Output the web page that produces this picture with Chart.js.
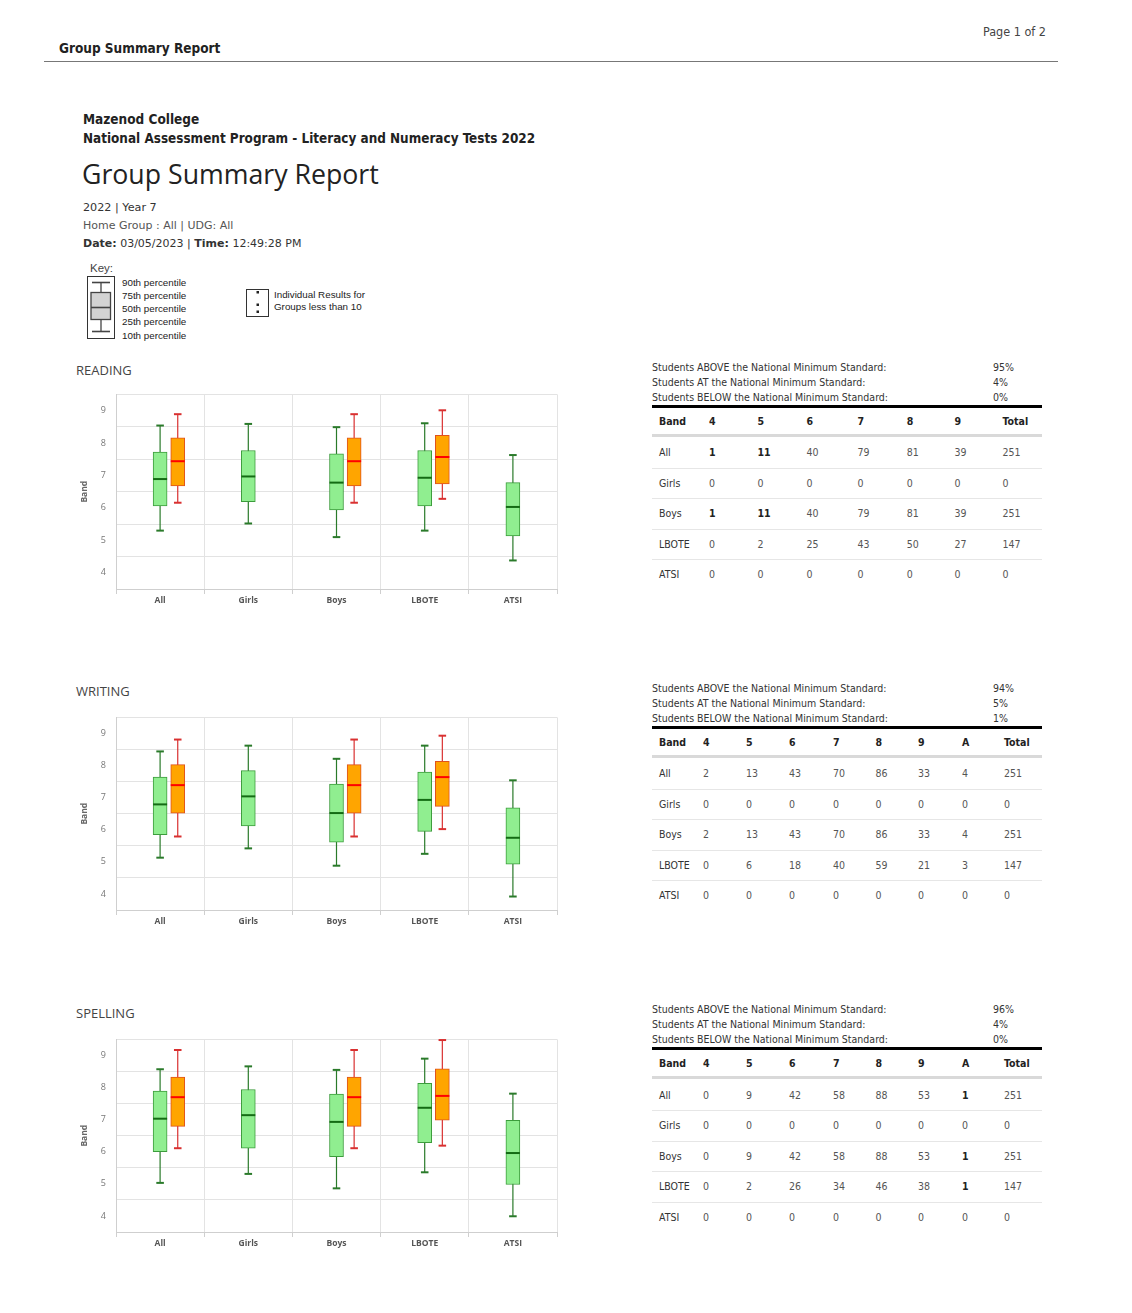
<!DOCTYPE html>
<html>
<head>
<meta charset="utf-8">
<script src="https://cdn.jsdelivr.net/npm/chart.js@4.4.1/dist/chart.umd.min.js"></script>
<style>
html,body{margin:0;padding:0;background:#fff;}
#page{position:relative;width:1132px;height:1313px;overflow:hidden;font-family:"DejaVu Sans",sans-serif;color:#222;}
.t{position:absolute;white-space:nowrap;line-height:16px;height:16px;}
.cond{font-family:"DejaVu Sans Condensed","DejaVu Sans",sans-serif;font-stretch:condensed;}
.rule{position:absolute;}
canvas.chart{position:absolute;}
</style>
</head>
<body>
<div id="page">
  <div class="t cond" style="left:983px;top:24px;font-size:12.5px;color:#444;">Page 1 of 2</div>
  <div class="t cond" style="left:59px;top:40px;font-size:13.5px;font-weight:bold;color:#222;">Group Summary Report</div>
  <div class="rule" style="left:44px;top:61px;width:1014px;height:1px;background:#777;"></div>

  <div class="t cond" style="left:83px;top:111px;font-size:13.5px;font-weight:bold;color:#222;">Mazenod College</div>
  <div class="t cond" style="left:83px;top:131px;font-size:13.4px;font-weight:bold;color:#222;">National Assessment Program - Literacy and Numeracy Tests 2022</div>
  <div class="t" style="left:82px;top:156px;height:36px;line-height:36px;font-family:'Open Sans',sans-serif;font-size:26.7px;color:#222;">Group Summary Report</div>
  <div class="t" style="left:83px;top:200px;font-size:11.2px;color:#333;">2022 | Year 7</div>
  <div class="t" style="left:83px;top:218px;font-size:11px;color:#555;">Home Group : All | UDG: All</div>
  <div class="t" style="left:83px;top:236px;font-size:11px;color:#333;"><b>Date:</b> 03/05/2023 | <b>Time:</b> 12:49:28 PM</div>

  <div class="t" style="left:90px;top:260px;font-family:'Liberation Sans',Arial,sans-serif;font-size:11.5px;color:#444;">Key:</div>
  <svg style="position:absolute;left:0;top:0;" width="400" height="350">
    <g stroke="#444" fill="none">
      <rect x="87.5" y="276.5" width="27" height="62" stroke="#333" stroke-width="1"/>
      <line x1="92" y1="282.5" x2="110" y2="282.5" stroke-width="1.6"/>
      <line x1="101" y1="282.5" x2="101" y2="292.5" stroke-width="1.3"/>
      <rect x="91" y="292.5" width="19.5" height="27" fill="#d3d3d3" stroke-width="1.3"/>
      <line x1="91" y1="307.5" x2="110.5" y2="307.5" stroke-width="1.6"/>
      <line x1="101" y1="319.5" x2="101" y2="331.5" stroke-width="1.3"/>
      <line x1="92" y1="331.5" x2="110" y2="331.5" stroke-width="1.6"/>
      <rect x="246.5" y="289.5" width="22" height="27" stroke="#333" stroke-width="1"/>
    </g>
    <g fill="#222">
      <rect x="256.5" y="291" width="2.5" height="2.5"/>
      <rect x="256.5" y="303.5" width="2.5" height="2.5"/>
      <rect x="256.5" y="310.5" width="2.5" height="2.5"/>
    </g>
  </svg>
</div>
<script>
// ---------- DATA ----------
const CATEGORIES = ['All', 'Girls', 'Boys', 'LBOTE', 'ATSI'];
const BAND_TICKS = [4, 5, 6, 7, 8, 9];
const KEY_LABELS = ['90th percentile', '75th percentile', '50th percentile', '25th percentile', '10th percentile'];

// percentiles per category: [10th, 25th, 50th, 75th, 90th]; green = state, orange = school
const readingState  = [[5.30, 6.06, 6.89, 7.72, 8.54], [5.52, 6.19, 6.97, 7.77, 8.59], [5.10, 5.94, 6.78, 7.67, 8.49], [5.30, 6.06, 6.93, 7.77, 8.61], [4.38, 5.14, 6.03, 6.78, 7.63]];
const readingSchool = [[6.16, 6.68, 7.44, 8.16, 8.89], null, [6.16, 6.68, 7.44, 8.16, 8.89], [6.28, 6.74, 7.57, 8.24, 9.01], null];
const writingState  = [[5.13, 5.85, 6.79, 7.64, 8.44], [5.42, 6.12, 7.04, 7.84, 8.62], [4.88, 5.61, 6.52, 7.42, 8.21], [5.25, 5.95, 6.93, 7.80, 8.62], [3.92, 4.93, 5.75, 6.68, 7.54]];
const writingSchool = [[5.79, 6.52, 7.39, 8.03, 8.81], null, [5.79, 6.52, 7.39, 8.03, 8.81], [6.02, 6.73, 7.64, 8.13, 8.93], null];
const spellingState  = [[5.03, 6.00, 7.03, 7.89, 8.57], [5.31, 6.11, 7.14, 7.94, 8.66], [4.86, 5.85, 6.93, 7.80, 8.55], [5.36, 6.28, 7.37, 8.13, 8.90], [3.99, 4.98, 5.96, 6.98, 7.81]];
const spellingSchool = [[6.11, 6.79, 7.70, 8.33, 9.17], null, [6.11, 6.79, 7.70, 8.33, 9.17], [6.19, 6.98, 7.74, 8.58, 9.48], null];

const STANDARD_LABELS = ['Students ABOVE the National Minimum Standard:', 'Students AT the National Minimum Standard:', 'Students BELOW the National Minimum Standard:'];
const readingStandard  = ['95%', '4%', '0%'];
const writingStandard  = ['94%', '5%', '1%'];
const spellingStandard = ['96%', '4%', '0%'];

const readingBands  = ['4', '5', '6', '7', '8', '9'];
const writingBands  = ['4', '5', '6', '7', '8', '9', 'A'];
const spellingBands = ['4', '5', '6', '7', '8', '9', 'A'];

const readingCounts  = [[1, 11, 40, 79, 81, 39, 251], [0, 0, 0, 0, 0, 0, 0], [1, 11, 40, 79, 81, 39, 251], [0, 2, 25, 43, 50, 27, 147], [0, 0, 0, 0, 0, 0, 0]];
const writingCounts  = [[2, 13, 43, 70, 86, 33, 4, 251], [0, 0, 0, 0, 0, 0, 0, 0], [2, 13, 43, 70, 86, 33, 4, 251], [0, 6, 18, 40, 59, 21, 3, 147], [0, 0, 0, 0, 0, 0, 0, 0]];
const spellingCounts = [[0, 9, 42, 58, 88, 53, 1, 251], [0, 0, 0, 0, 0, 0, 0, 0], [0, 9, 42, 58, 88, 53, 1, 251], [0, 2, 26, 34, 46, 38, 1, 147], [0, 0, 0, 0, 0, 0, 0, 0]];

// cells rendered in bold: [row, col]
const readingBold  = [[0, 0], [0, 1], [2, 0], [2, 1]];
const writingBold  = [];
const spellingBold = [[0, 6], [2, 6], [3, 6]];

// ---------- LAYOUT / STYLE ----------
const SCHOOL_OFFSET = 0.2;
const SECTIONS = [
  {title: 'READING',  state: readingState,  school: readingSchool,  standard: readingStandard,  bands: readingBands,  counts: readingCounts,  bold: readingBold,
   titleY: 370, plotTop: 394, plotBottom: 589, base: 366.5, cols: [659, 709, 757.5, 806.5, 857.5, 906.8, 954.5, 1002.5]},
  {title: 'WRITING',  state: writingState,  school: writingSchool,  standard: writingStandard,  bands: writingBands,  counts: writingCounts,  bold: writingBold,
   titleY: 691, plotTop: 717, plotBottom: 910, base: 687.5, cols: [659, 703, 746, 789, 833, 875.5, 918, 962, 1004]},
  {title: 'SPELLING', state: spellingState, school: spellingSchool, standard: spellingStandard, bands: spellingBands, counts: spellingCounts, bold: spellingBold,
   titleY: 1013, plotTop: 1039, plotBottom: 1232, base: 1009, cols: [659, 703, 746, 789, 833, 875.5, 918, 962, 1004]}
];

const page = document.getElementById('page');
function addText(x, cy, html, css) {
  const d = document.createElement('div');
  d.className = 't';
  d.style.left = x + 'px';
  d.style.top = (cy - 8) + 'px';
  if (css) d.style.cssText += css;
  d.textContent = html;
  page.appendChild(d);
  return d;
}
function addRule(x, y, w, h, color) {
  const d = document.createElement('div');
  d.className = 'rule';
  d.style.cssText += `left:${x}px;top:${y}px;width:${w}px;height:${h}px;background:${color};`;
  page.appendChild(d);
}

// key text
const KEY_Y = [283, 296, 308.7, 322, 336.3];
const KEY_CSS = "font-family:'Liberation Sans',Arial,sans-serif;font-size:9.8px;color:#222;";
KEY_LABELS.forEach((s, i) => addText(122, KEY_Y[i], s, KEY_CSS));
addText(274, 294.5, 'Individual Results for', KEY_CSS);
addText(274, 306.5, 'Groups less than 10', KEY_CSS);

// tables
const TBL_X = 652, TBL_W = 390;
const CELL_CSS = "font-family:'DejaVu Sans Condensed','DejaVu Sans',sans-serif;font-stretch:condensed;font-size:10.5px;";
SECTIONS.forEach(sec => {
  addText(76, sec.titleY, sec.title, "font-family:'Open Sans',sans-serif;font-size:13px;color:#444;");
  const b = sec.base;
  STANDARD_LABELS.forEach((lab, i) => {
    addText(TBL_X, b + i * 15, lab, CELL_CSS + 'color:#333;');
    addText(993, b + i * 15, sec.standard[i], CELL_CSS + 'color:#333;');
  });
  addRule(TBL_X, b + 38, TBL_W, 3, '#000');
  const headY = b + 54;
  addText(sec.cols[0], headY, 'Band', CELL_CSS + 'font-weight:bold;color:#222;');
  sec.bands.forEach((bd, i) => addText(sec.cols[i + 1], headY, bd, CELL_CSS + 'font-weight:bold;color:#222;'));
  addText(sec.cols[sec.cols.length - 1], headY, 'Total', CELL_CSS + 'font-weight:bold;color:#222;');
  addRule(TBL_X, b + 67, TBL_W, 3, '#d9d9d9');
  CATEGORIES.forEach((cat, r) => {
    const cy = b + 85.5 + r * 30.5;
    addText(sec.cols[0], cy, cat, CELL_CSS + 'color:#333;');
    sec.counts[r].forEach((v, c) => {
      const isBold = sec.bold.some(p => p[0] === r && p[1] === c);
      addText(sec.cols[c + 1], cy, String(v), CELL_CSS + 'color:' + (isBold ? '#222;font-weight:bold;' : '#555;'));
    });
    if (r < CATEGORIES.length - 1) addRule(TBL_X, Math.round(cy + 15.5), TBL_W, 1, '#e6e6e6');
  });
});

// ---------- CHARTS ----------
const isWhole = v => Math.abs(v - Math.round(v)) < 1e-6;
const GRID = '#e3e3e3';
const AXIS = '#cfcfcf';

const boxPlugin = {
  id: 'boxWhiskers',
  beforeDatasetsDraw(chart) { drawParts(chart, 'whisker'); },
  afterDatasetsDraw(chart) { drawParts(chart, 'median'); }
};
function drawParts(chart, part) {
  const ctx = chart.ctx, ys = chart.scales.y;
  ctx.save();
  chart.data.datasets.forEach((ds, di) => {
    const meta = chart.getDatasetMeta(di);
    meta.data.forEach((bar, j) => {
      const p = ds.data[j].p;
      const x = bar.x, w = bar.width;
      if (part === 'whisker') {
        ctx.strokeStyle = ds.whiskerColor;
        ctx.lineWidth = 1.2;
        ctx.beginPath();
        ctx.moveTo(x, ys.getPixelForValue(p[0]));
        ctx.lineTo(x, ys.getPixelForValue(p[4]));
        ctx.stroke();
        ctx.lineWidth = 2;
        [p[0], p[4]].forEach(v => {
          const py = ys.getPixelForValue(v);
          ctx.beginPath();
          ctx.moveTo(x - w * 0.27, py);
          ctx.lineTo(x + w * 0.27, py);
          ctx.stroke();
        });
      } else {
        ctx.strokeStyle = ds.medianColor;
        ctx.lineWidth = 2;
        const py = ys.getPixelForValue(p[2]);
        ctx.beginPath();
        ctx.moveTo(x - w / 2, py);
        ctx.lineTo(x + w / 2, py);
        ctx.stroke();
      }
    });
  });
  ctx.restore();
}

function makeConfig(sec) {
  const stateData = sec.state.map((p, i) => p && {x: i, y: [p[1], p[3]], p: p}).filter(Boolean);
  const schoolData = sec.school.map((p, i) => p && {x: i + SCHOOL_OFFSET, y: [p[1], p[3]], p: p}).filter(Boolean);
  return {
    type: 'bar',
    data: {
      datasets: [
        {data: stateData, backgroundColor: '#90ee90', borderColor: '#3c9c3c', borderWidth: 1, borderSkipped: false,
         barThickness: 14, grouped: false, whiskerColor: '#2a7a2a', medianColor: '#146b14'},
        {data: schoolData, backgroundColor: '#ffa500', borderColor: '#e0521c', borderWidth: 1, borderSkipped: false,
         barThickness: 14, grouped: false, whiskerColor: '#d93030', medianColor: '#ff0000'}
      ]
    },
    options: {
      responsive: false,
      maintainAspectRatio: false,
      animation: false,
      devicePixelRatio: 1,
      layout: {padding: {top: 6, right: 5, left: 0, bottom: 0}},
      plugins: {legend: {display: false}, tooltip: {enabled: false}},
      scales: {
        x: {
          type: 'linear', min: -0.5, max: 4.5, offset: false,
          grid: {offset: false, color: c => (c.tick && !isWhole(c.tick.value)) ? GRID : 'transparent',
                 tickColor: c => (c.tick && !isWhole(c.tick.value)) ? AXIS : 'transparent', tickLength: 5},
          border: {color: AXIS},
          ticks: {stepSize: 0.5, autoSkip: false, maxRotation: 0, minRotation: 0, padding: 1, color: '#555',
                  font: {family: 'Open Sans', size: 8.5, weight: 'bold'},
                  callback: v => isWhole(v) ? CATEGORIES[Math.round(v)] : ''},
          afterFit: s => { s.height = 20; }
        },
        y: {
          min: 3.5, max: 9.5,
          grid: {color: c => (c.tick && !isWhole(c.tick.value)) ? GRID : 'transparent', drawTicks: false},
          border: {color: AXIS},
          ticks: {stepSize: 0.5, autoSkip: false, padding: 10, color: '#777',
                  font: {family: 'Open Sans', size: 9},
                  callback: v => (isWhole(v) && BAND_TICKS.includes(Math.round(v))) ? String(Math.round(v)) : ''},
          title: {display: true, text: 'Band', color: '#666', font: {family: 'Open Sans', size: 8.5, weight: 'bold'}, padding: {top: 7, bottom: 0}},
          afterFit: s => { s.width = 44; }
        }
      }
    },
    plugins: [boxPlugin]
  };
}

const CANVAS_LEFT = 72, CANVAS_W = 490, CANVAS_H0 = 224;
function placeCanvas(h) {
  const canvas = document.createElement('canvas');
  canvas.className = 'chart';
  canvas.width = CANVAS_W; canvas.height = h;
  canvas.style.left = CANVAS_LEFT + 'px';
  canvas.style.width = CANVAS_W + 'px'; canvas.style.height = h + 'px';
  page.appendChild(canvas);
  return canvas;
}
function buildChart(sec) {
  let canvas = placeCanvas(CANVAS_H0);
  canvas.style.top = (sec.plotTop - 10) + 'px';
  let chart = new Chart(canvas, makeConfig(sec));
  // fit the plot area to the page layout: adjust canvas height, then position it
  const wantH = sec.plotBottom - sec.plotTop;
  const gotH = chart.chartArea.bottom - chart.chartArea.top;
  if (Math.abs(wantH - gotH) > 0.5) {
    chart.destroy();
    canvas.remove();
    canvas = placeCanvas(Math.round(CANVAS_H0 + (wantH - gotH)));
    chart = new Chart(canvas, makeConfig(sec));
  }
  canvas.style.top = (sec.plotTop - chart.chartArea.top) + 'px';
}
SECTIONS.forEach(buildChart);
</script>
</body>
</html>
